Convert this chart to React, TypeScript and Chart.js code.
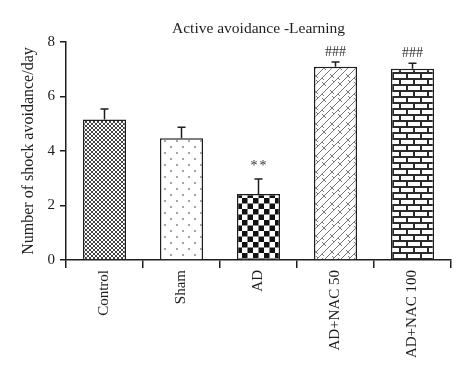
import React, { useEffect, useRef } from "react";
import { Chart, registerables } from "chart.js";
Chart.register(...registerables);

const categories = ["Control", "Sham", "AD", "AD+NAC 50", "AD+NAC 100"];
const means = [5.16, 4.47, 2.42, 7.09, 7.02];
const errors = [0.38, 0.4, 0.55, 0.18, 0.2];
const marks = ["", "", "**", "###", "###"];
const yTicks = [0, 2, 4, 6, 8];
const chartTitle = "Active avoidance -Learning";
const yTitle = "Number of shock avoidance/day";
const patternKinds = ["mesh", "dots", "checker", "diag", "brick"];

const FONT = "'Liberation Serif', 'DejaVu Serif', serif";
const INK = "#1e1e1e";

function makePattern(ctx0: CanvasRenderingContext2D, kind: string): CanvasPattern | string {
  const c = document.createElement("canvas");
  const g = c.getContext("2d")!;
  if (kind === "mesh") {
    c.width = 4; c.height = 4;
    g.fillStyle = "#fff"; g.fillRect(0, 0, 4, 4);
    g.fillStyle = "#444";
    for (let i = 0; i < 4; i++) { g.fillRect(i, i, 1, 1); g.fillRect(3 - i, i, 1, 1); }
  } else if (kind === "dots") {
    c.width = 12; c.height = 12;
    g.fillStyle = "#fff"; g.fillRect(0, 0, 12, 12);
    g.fillStyle = "#333";
    g.beginPath(); g.arc(3, 3, 0.8, 0, Math.PI * 2); g.fill();
    g.beginPath(); g.arc(9, 9, 0.8, 0, Math.PI * 2); g.fill();
  } else if (kind === "checker") {
    c.width = 11; c.height = 11;
    g.fillStyle = "#fff"; g.fillRect(0, 0, 11, 11);
    g.fillStyle = "#111";
    g.fillRect(0, 0, 5.5, 5.5); g.fillRect(5.5, 5.5, 5.5, 5.5);
  } else if (kind === "diag") {
    c.width = 16; c.height = 16;
    g.fillStyle = "#fff"; g.fillRect(0, 0, 16, 16);
    g.strokeStyle = "#777"; g.lineWidth = 1;
    g.beginPath();
    for (let k = -16; k <= 32; k += 8) { g.moveTo(k, 16); g.lineTo(k + 16, 0); }
    g.moveTo(2, 2); g.lineTo(6, 6);
    g.moveTo(10, 10); g.lineTo(14, 14);
    g.moveTo(10, -2); g.lineTo(14, 2);
    g.moveTo(2, 14); g.lineTo(6, 18);
    g.stroke();
  } else if (kind === "brick") {
    c.width = 14; c.height = 12;
    g.fillStyle = "#fff"; g.fillRect(0, 0, 14, 12);
    g.fillStyle = "#2a2a2a";
    g.fillRect(0, 0, 14, 2); g.fillRect(0, 6, 14, 2);
    g.fillRect(0, 0, 2, 6); g.fillRect(7, 6, 2, 6);
  }
  return ctx0.createPattern(c, "repeat") || "#888";
}

const decorPlugin = {
  id: "decor",
  afterDatasetsDraw(chart: any) {
    const { ctx, scales, chartArea } = chart;
    const y = scales.y;
    const meta = chart.getDatasetMeta(0);
    ctx.save();
    // title, centred over the plot area
    ctx.fillStyle = INK;
    ctx.font = `15.5px ${FONT}`;
    ctx.textAlign = "center";
    ctx.textBaseline = "middle";
    ctx.fillText(chartTitle, (chartArea.left + chartArea.right) / 2, 29);
    meta.data.forEach((bar: any, i: number) => {
      const xc = bar.x;
      const top = y.getPixelForValue(means[i]);
      const et = y.getPixelForValue(means[i] + errors[i]);
      ctx.strokeStyle = INK;
      ctx.lineWidth = 1.5;
      ctx.beginPath();
      ctx.moveTo(xc, top);
      ctx.lineTo(xc, et);
      ctx.moveTo(xc - 4, et);
      ctx.lineTo(xc + 4, et);
      ctx.stroke();
      if (marks[i]) {
        ctx.fillStyle = "#333";
        ctx.font = `14px ${FONT}`;
        ctx.textAlign = "center";
        ctx.textBaseline = "alphabetic";
        const chars = marks[i].split("");
        const step = marks[i].startsWith("*") ? 9 : 7;
        const x0 = xc - ((chars.length - 1) * step) / 2;
        const off = marks[i].startsWith("*") ? 9 : 6;
        chars.forEach((ch, j) => ctx.fillText(ch, x0 + j * step, et - off));
      }
    });
    ctx.restore();
  },
};

export default function App() {
  const ref = useRef<HTMLCanvasElement>(null);
  useEffect(() => {
    document.body.style.margin = "0";
    const canvas = ref.current!;
    const ctx = canvas.getContext("2d")!;
    const patterns = patternKinds.map((k) => makePattern(ctx, k));
    const chart = new Chart(canvas, {
      type: "bar",
      data: {
        labels: categories,
        datasets: [
          {
            data: means,
            backgroundColor: patterns as any,
            borderColor: INK,
            borderWidth: 1.5,
            barPercentage: 0.56,
            categoryPercentage: 1,
          },
        ],
      },
      options: {
        responsive: false,
        animation: false,
        layout: { padding: { left: 12, right: 23, top: 42, bottom: 0 } },
        plugins: {
          legend: { display: false },
          tooltip: { enabled: false },
          title: { display: false },
        },
        scales: {
          x: {
            offset: true,
            grid: {
              display: true,
              offset: true,
              drawOnChartArea: false,
              drawTicks: true,
              tickLength: 8,
              color: INK,
              lineWidth: 1.5,
            },
            border: { display: true, color: INK, width: 1.5 },
            ticks: {
              maxRotation: 90,
              minRotation: 90,
              padding: 2,
              color: INK,
              font: { family: FONT, size: 15 },
            },
            afterFit: (s: any) => {
              s.height = 122;
            },
          },
          y: {
            min: 0,
            max: 8,
            afterBuildTicks: (axis: any) => {
              axis.ticks = yTicks.map((v) => ({ value: v }));
            },
            grid: {
              drawOnChartArea: false,
              drawTicks: true,
              tickLength: 6,
              color: INK,
              lineWidth: 1.5,
            },
            border: { display: true, color: INK, width: 1.5 },
            ticks: {
              padding: 5,
              color: INK,
              font: { family: FONT, size: 15 },
            },
            title: {
              display: true,
              text: yTitle,
              color: INK,
              font: { family: FONT, size: 16 },
              padding: { top: 7, bottom: 0 },
            },
            afterFit: (s: any) => {
              s.width = 54;
            },
          },
        },
      },
      plugins: [decorPlugin],
    } as any);
    return () => chart.destroy();
  }, []);
  return (
    <div style={{ width: 474, height: 382 }}>
      <canvas ref={ref} width={474} height={382} style={{ display: "block" }} />
    </div>
  );
}
